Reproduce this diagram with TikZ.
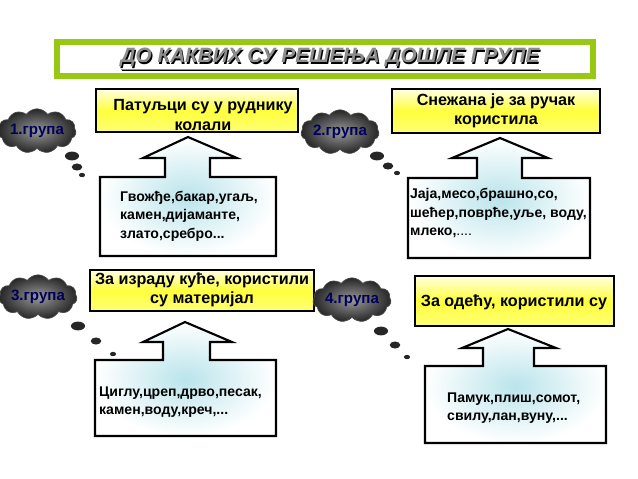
\documentclass[tikz,border=0pt]{standalone}
\usepackage{fontspec}
\setmainfont{Liberation Sans}
\usetikzlibrary{shapes.symbols,shapes.geometric,shadings}
\definecolor{grn}{RGB}{150,200,20}
\definecolor{ylw}{RGB}{255,255,60}
\definecolor{cyn}{RGB}{185,228,235}
\tikzset{
 ybox/.style={draw=black,line width=1.2pt,top color=ylw!15,bottom color=ylw!70!white,middle color=ylw},
 cbox/.style={draw=black,line width=1.2pt,inner color=cyn,outer color=white},
 ytext/.style={font=\bfseries\fontsize{9.2}{11}\selectfont,align=center},
 ctext/.style={font=\bfseries\fontsize{8}{10.5}\selectfont,align=left,anchor=west},
 grp/.style={cloud,cloud puffs=11,cloud puff arc=110,aspect=2.2,minimum width=1.5cm,minimum height=0.8cm,inner sep=0pt,draw=black!70,inner color=black!40,outer color=black!85,font=\bfseries\fontsize{8.6}{10}\selectfont,text=blue!35!black},
 dotsh/.style={fill=black!85,draw=none,ellipse,inner sep=0pt},
 dbig/.style={dotsh,minimum width=8pt,minimum height=5pt},
 dmid/.style={dotsh,minimum width=6pt,minimum height=4pt},
 dsml/.style={dotsh,minimum width=3.5pt,minimum height=2.5pt}
}
\newcommand{\callout}[9]{%
 \filldraw[cbox] (#1,#3) -- (#5,#3) -- (#5,#9) -- (#7,#9) -- (\tipx,\tipy) -- (#8,#9) -- (#6,#9) -- (#6,#3) -- (#2,#3) -- (#2,#4) -- (#1,#4) -- cycle;}
\begin{document}
\begin{tikzpicture}[x=0.02cm,y=-0.02cm]
\useasboundingbox (0,0) rectangle (638,478);
% title
\draw[grn,line width=3pt,fill=white] (57,42) rectangle (593,76);
\node[font=\bfseries\itshape\fontsize{11.8}{14}\selectfont,text=black] at (331.2,60.8) {\underline{ДО КАКВИХ СУ РЕШЕЊА ДОШЛЕ ГРУПЕ}};
\node (title) [font=\bfseries\itshape\fontsize{11.8}{14}\selectfont,text=black!45] at (330,59.5) {\underline{ДО КАКВИХ СУ РЕШЕЊА ДОШЛЕ ГРУПЕ}};

% panel 1
\def\tipx{188}\def\tipy{137}
\callout{100}{276}{177}{256}{165}{210}{143}{237}{158}
\node (l1) [ctext] at (114,216) {Гвожђе,бакар,угаљ,\\камен,дијаманте,\\злато,сребро...};
\filldraw[ybox] (96,89) rectangle (298,132);
\node (t1) [ytext] at (203,115) {Патуљци су у руднику\\колали};
\node (g1) [grp] at (37,131) {1.група};
\node[dbig] (d1a) at (72,156) {};
\node[dmid] (d1b) at (77,167) {};
\node[dsml] (d1c) at (82,175) {};

% panel 2
\def\tipx{500}\def\tipy{138}
\callout{408}{590}{178}{258}{477}{522}{452}{548}{158}
\node (l2) [ctext,inner sep=1pt] at (408,213) {Јаја,месо,брашно,со,\\шећер,поврће,уље, воду,\\млеко,{\mdseries ....}};
\filldraw[ybox] (392,89) rectangle (600,133);
\node (t2) [ytext] at (496,111) {Снежана је за ручак\\користила};
\node (g2) [grp] at (340,132) {2.група};
\node[dbig] (d2a) at (377,156) {};
\node[dmid] (d2b) at (388,166) {};
\node[dsml] (d2c) at (397,173) {};

% panel 3
\def\tipx{185}\def\tipy{322}
\callout{95}{276}{360}{436}{163}{210}{143}{232}{342}
\node (l3) [ctext] at (93,402) {Циглу,цреп,дрво,песак,\\камен,воду,креч,...};
\filldraw[ybox] (90,270) rectangle (314,311);
\node (t3) [ytext] at (202,290) {За израду куће, користили\\су материјал};
\node (g3) [grp] at (38,297) {3.група};
\node[dbig] (d3a) at (78,326) {};
\node[dmid] (d3b) at (96,341) {};
\node[dsml] (d3c) at (113,354) {};

% panel 4
\def\tipx{508}\def\tipy{329}
\callout{425}{606}{366}{443}{483}{534}{462}{556}{348}
\node (l4) [ctext] at (441,408) {Памук,плиш,сомот,\\свилу,лан,вуну,...};
\filldraw[ybox] (415,276) rectangle (614,326);
\node (t4) [ytext] at (514,302) {За одећу, користили су};
\node (g4) [grp] at (352,300) {4.група};
\node[dbig] (d4a) at (381,331) {};
\node[dmid] (d4b) at (395,345) {};
\node[dsml] (d4c) at (407,357) {};
\end{tikzpicture}
\end{document}
